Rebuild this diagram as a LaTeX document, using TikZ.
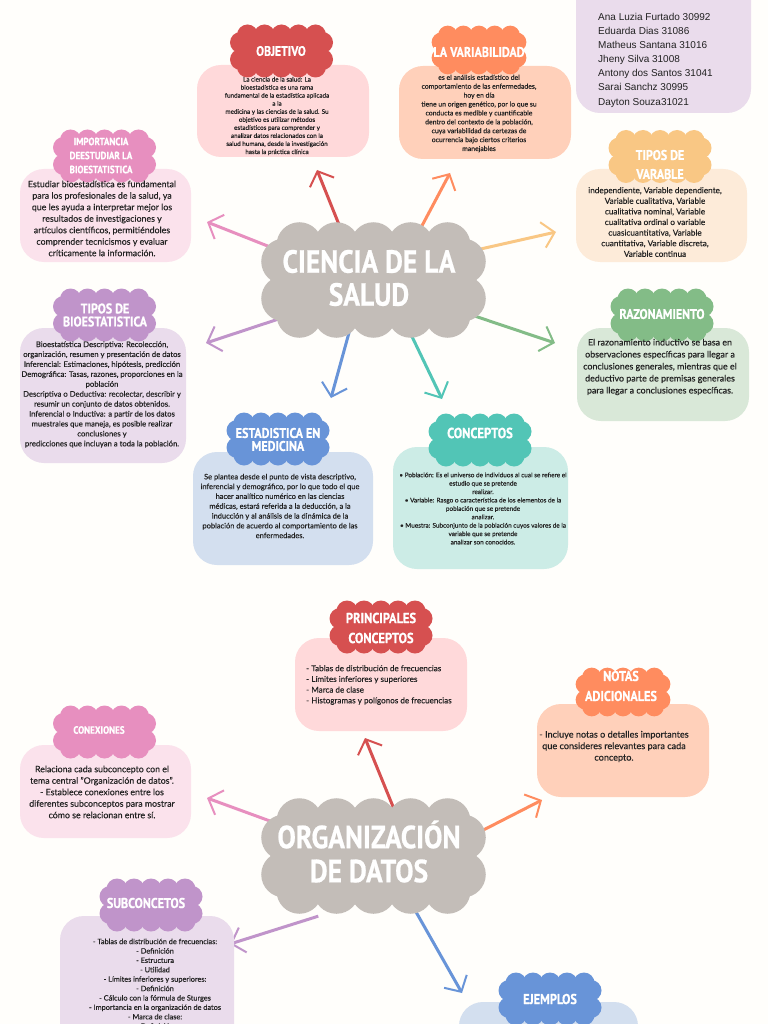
\documentclass[tikz,border=0pt]{standalone}
\usepackage{fontspec}
\setmainfont{Lato}[FakeBold=0.25]
\newfontfamily\headfont[FakeStretch=0.86,FakeBold=0.6]{PT Sans}
\newfontfamily\namefont{Liberation Sans}
\usetikzlibrary{arrows.meta,backgrounds}
\definecolor{paper}{HTML}{FFFEFB}
\definecolor{gris}{HTML}{C3BDB8}
\definecolor{rojo}{HTML}{D65050}
\definecolor{rojob}{HTML}{FFD9DA}
\definecolor{naranja}{HTML}{FF8C5F}
\definecolor{naranjab}{HTML}{FFD0BA}
\definecolor{amarillo}{HTML}{F9C784}
\definecolor{amarillob}{HTML}{FDEBD9}
\definecolor{verde}{HTML}{83BC87}
\definecolor{verdeb}{HTML}{D9E8D8}
\definecolor{turq}{HTML}{52C5B6}
\definecolor{turqb}{HTML}{CCECE6}
\definecolor{azul}{HTML}{6894D8}
\definecolor{azulb}{HTML}{D3DFEF}
\definecolor{lila}{HTML}{C094CA}
\definecolor{lilab}{HTML}{EADCEC}
\definecolor{rosa}{HTML}{E78FBF}
\definecolor{rosab}{HTML}{FBE2EC}
\definecolor{tinta}{HTML}{222222}
\newcommand{\sz}[2]{\fontsize{#1}{#2}\selectfont}
\newcommand{\puff}[4]{%
  \begin{scope}[shift={(#1,#2)},scale=#3]
    \fill[#4] (-41,-16) rectangle (41,16);
    \foreach \px in {-34,-17,...,34} {
      \fill[#4] (\px,-16) circle (10.5);
      \fill[#4] (\px,16) circle (10.5);
    }
    \foreach \py in {-8.5,8.5} {
      \fill[#4] (-41,\py) circle (10.5);
      \fill[#4] (41,\py) circle (10.5);
    }
  \end{scope}}
\tikzset{
  bubble/.style={rounded corners=24pt,inner sep=0pt},
  cuerpo/.style={align=center,inner sep=0pt,text=tinta},
  cabeza/.style={align=center,inner sep=0pt,text=white},
  centro/.style={align=center,inner sep=0pt,text=white,minimum height=76pt},
  flecha/.style={line width=3pt,-{Straight Barb[length=12pt,width=26pt,line width=2pt]}}
}
\begin{document}
\begin{tikzpicture}[x=1pt,y=-1pt]
\useasboundingbox (0,0) rectangle (768,1024);

% The boxes
\foreach \bname/\bx/\by/\bw/\bh/\bcol in {
  boxObjetivo/283/111/172/92/rojob,
  boxVariabilidad/485/112.5/172/93/naranjab,
  boxNombres/663.5/41.5/175/143/lilab,
  boxImportancia/105.5/215.5/171/93/rosab,
  boxVariable/661.5/215.5/171/93/amarillob,
  boxBio/103/395.5/166/135/lilab,
  boxRazon/663/374.5/172/93/verdeb,
  boxMedicina/283/508.5/180/113/azulb,
  boxConceptos/480.5/508/175/122/turqb,
  boxPrincipales/381/684.5/172/93/rojob,
  boxNotas/623/750.5/172/93/naranjab,
  boxConexiones/105.5/791.5/171/93/rosab,
  boxSub/147/988/174/144/lilab,
  boxEjemplos/548.5/1031/179/58/azulb} {
  \node[bubble,fill=\bcol,minimum width=\bw pt,minimum height=\bh pt] (\bname) at (\bx,\by) {};
}

% The clouds
\puff{373.5}{280}{2.18}{gris}
\puff{373.5}{856}{2.18}{gris}
\puff{281.5}{51}{1}{rojo}
\puff{479}{50}{.92}{naranja}
\puff{104.5}{156}{1}{rosa}
\puff{660}{156.5}{1}{amarillo}
\puff{104.5}{315}{1}{lila}
\puff{662}{315}{1}{verde}
\puff{278}{439}{1}{azul}
\puff{480}{440}{1}{turq}
\puff{381}{627}{1}{rojo}
\puff{623}{692}{.92}{naranja}
\puff{104.5}{732}{1}{rosa}
\puff{151}{905}{1}{lila}
\puff{550}{999}{1}{azul}

% The titles
\node[centro,minimum width=180pt,font=\headfont\bfseries\sz{32}{33}] (ciencia) at (369,278) {CIENCIA DE LA\\SALUD};
\node[centro,minimum width=190pt,font=\headfont\bfseries\sz{32}{34}] (organizacion) at (369,851.5) {ORGANIZACIÓN\\DE DATOS};
\node[cabeza,font=\headfont\bfseries\sz{13.7}{14}] (objetivo) at (281,51) {OBJETIVO};
\node[cabeza,font=\headfont\bfseries\sz{14}{14}] (variabilidad) at (479,52) {LA VARIABILIDAD};
\node[cabeza,font=\headfont\bfseries\sz{10.5}{14}] (importancia) at (101,155.5) {IMPORTANCIA\\DEESTUDIAR LA\\BIOESTATISTICA};
\node[cabeza,font=\headfont\bfseries\sz{14}{19}] (variable) at (660,164.5) {TIPOS DE\\VARABLE};
\node[cabeza,font=\headfont\bfseries\sz{14}{13}] (bio) at (105,315) {TIPOS DE\\BIOESTATISTICA};
\node[cabeza,font=\headfont\bfseries\sz{14}{13}] (razon) at (662,314) {RAZONAMIENTO};
\node[cabeza,font=\headfont\bfseries\sz{14}{13}] (medicina) at (278,439.5) {ESTADISTICA EN\\MEDICINA};
\node[cabeza,font=\headfont\bfseries\sz{14.6}{13}] (conceptos) at (480,433) {CONCEPTOS};
\node[cabeza,font=\headfont\bfseries\sz{14.5}{20}] (principales) at (381,628) {PRINCIPALES\\CONCEPTOS};
\node[cabeza,font=\headfont\bfseries\sz{14.2}{20}] (notas) at (621,686) {NOTAS\\ADICIONALES};
\node[cabeza,font=\headfont\bfseries\sz{10.5}{13}] (conexiones) at (99,730) {CONEXIONES};
\node[cabeza,font=\headfont\bfseries\sz{14.2}{13}] (subconcetos) at (146,903) {SUBCONCETOS};
\node[cabeza,font=\headfont\bfseries\sz{14.3}{13}] (ejemplos) at (550,999) {EJEMPLOS};

% The texts
\node[cuerpo,font=\sz{6.3}{8.05}] (txtObjetivo) at (277,116) {La ciencia de la salud: La\\bioestadística es una rama\\fundamental de la estadística aplicada\\a la\\medicina y las ciencias de la salud. Su\\objetivo es utilizar métodos\\estadísticos para comprender y\\analizar datos relacionados con la\\salud humana, desde la investigación\\hasta la práctica clínica};
\node[cuerpo,font=\sz{6.85}{8.9}] (txtVariabilidad) at (479,113.5) {es el análisis estadístico del\\comportamiento de las enfermedades,\\hoy en día\\tiene un origen genético, por lo que su\\conducta es medible y cuantificable\\dentro del contexto de la población,\\cuya variabilidad da certezas de\\ocurrencia bajo ciertos criterios\\manejables};
\node[cuerpo,anchor=west,align=left,font=\namefont\sz{10}{14.17}] (nombres) at (598,60) {Ana Luzia Furtado 30992\\Eduarda Dias 31086\\Matheus Santana 31016\\Jheny Silva 31008\\Antony dos Santos 31041\\Sarai Sanchz 30995\\Dayton Souza31021};
\node[cuerpo,font=\sz{8.8}{11.5}] (txtImportancia) at (102,218.5) {Estudiar bioestadística es fundamental\\para los profesionales de la salud, ya\\que les ayuda a interpretar mejor los\\resultados de investigaciones y\\artículos científicos, permitiéndoles\\comprender tecnicismos y evaluar\\críticamente la información.};
\node[cuerpo,font=\sz{8.2}{10.6}] (txtVariable) at (655,222) {independiente, Variable dependiente,\\Variable cualitativa, Variable\\cualitativa nominal, Variable\\cualitativa ordinal o variable\\cuasicuantitativa, Variable\\cuantitativa, Variable discreta,\\Variable continua};
\node[cuerpo,font=\sz{7.7}{9.93}] (txtBio) at (102,394.5) {Bioestatística Descriptiva: Recolección,\\organización, resumen y presentación de datos\\Inferencial: Estimaciones, hipótesis, predicción\\Demográfica: Tasas, razones, proporciones en la\\población\\Descriptiva o Deductiva: recolectar, describir y\\resumir un conjunto de datos obtenidos.\\Inferencial o Inductiva: a partir de los datos\\muestrales que maneja, es posible realizar\\conclusiones y\\predicciones que incluyan a toda la población.};
\node[cuerpo,font=\sz{8.9}{12}] (txtRazon) at (660,367) {El razonamiento inductivo se basa en\\observaciones específicas para llegar a\\conclusiones generales, mientras que el\\deductivo parte de premisas generales\\para llegar a conclusiones específicas.};
\node[cuerpo,font=\sz{7.5}{9.8}] (txtMedicina) at (280,506) {Se plantea desde el punto de vista descriptivo,\\inferencial y demográfico, por lo que todo el que\\hacer analítico numérico en las ciencias\\médicas, estará referida a la deducción, a la\\inducción y al análisis de la dinámica de la\\población de acuerdo al comportamiento de las\\enfermedades.};
\node[cuerpo,font=\sz{6.4}{8.4}] (txtConceptos) at (483,508.5) {• Población: Es el universo de individuos al cual se refiere el\\estudio que se pretende\\realizar.\\• Variable: Rasgo o característica de los elementos de la\\población que se pretende\\analizar.\\• Muestra: Subconjunto de la población cuyos valores de la\\variable que se pretende\\analizar son conocidos.};
\node[cuerpo,anchor=west,align=left,font=\sz{8.1}{10.7}] (txtPrincipales) at (306,685) {- Tablas de distribución de frecuencias\\- Límites inferiores y superiores\\- Marca de clase\\- Histogramas y polígonos de frecuencias};
\node[cuerpo,font=\sz{9.1}{11.5}] (txtNotas) at (614,746.5) {- Incluye notas o detalles importantes\\que consideres relevantes para cada\\concepto.};
\node[cuerpo,font=\sz{8.8}{11.5}] (txtConexiones) at (102,792) {Relaciona cada subconcepto con el\\tema central "Organización de datos".\\- Establece conexiones entre los\\diferentes subconceptos para mostrar\\cómo se relacionan entre sí.};
\node[cuerpo,anchor=north,font=\sz{7.35}{9.4}] (txtSub) at (155,938.5) {- Tablas de distribución de frecuencias:\\- Definición\\- Estructura\\- Utilidad\\- Límites inferiores y superiores:\\- Definición\\- Cálculo con la fórmula de Sturges\\- Importancia en la organización de datos\\- Marca de clase:\\- Definición};

% The arrows
\coordinate (tipObjetivo) at (317,170);
\coordinate (tipVariabilidad) at (450,173);
\coordinate (tipVariable) at (556,232);
\coordinate (tipRazon) at (555,343);
\coordinate (tipConceptos) at (442,399);
\coordinate (tipMedicina) at (331,398);
\coordinate (tipBio) at (206,343);
\coordinate (tipImportancia) at (207,222);
\coordinate (tipPrincipales) at (365,738);
\coordinate (tipNotas) at (542,800);
\coordinate (tipEjemplos) at (462,993);
\coordinate (tipSub) at (230,944);
\coordinate (tipConexiones) at (207,798);
\begin{scope}[on background layer]
\fill[paper] (0,0) rectangle (768,1024);
\draw[flecha,rojo] (ciencia.122) -- (tipObjetivo);
\draw[flecha,naranja] (ciencia.40) -- (tipVariabilidad);
\draw[flecha,amarillo] (ciencia.15) -- (tipVariable);
\draw[flecha,verde] (ciencia.-20) -- (tipRazon);
\draw[flecha,turq] (ciencia.-49) -- (tipConceptos);
\draw[flecha,azul] (ciencia.248) -- (tipMedicina);
\draw[flecha,lila] (ciencia.205) -- (tipBio);
\draw[flecha,rosa] (ciencia.163) -- (tipImportancia);
\draw[flecha,rojo] (organizacion.55) -- (tipPrincipales);
\draw[flecha,naranja] (organizacion.7) -- (tipNotas);
\draw[flecha,azul] (organizacion.-48) -- (tipEjemplos);
\draw[flecha,lila,shorten <=88pt] (organizacion.-49) -- (tipSub);
\draw[flecha,rosa] (organizacion.163) -- (tipConexiones);
\end{scope}
\end{tikzpicture}
\end{document}
